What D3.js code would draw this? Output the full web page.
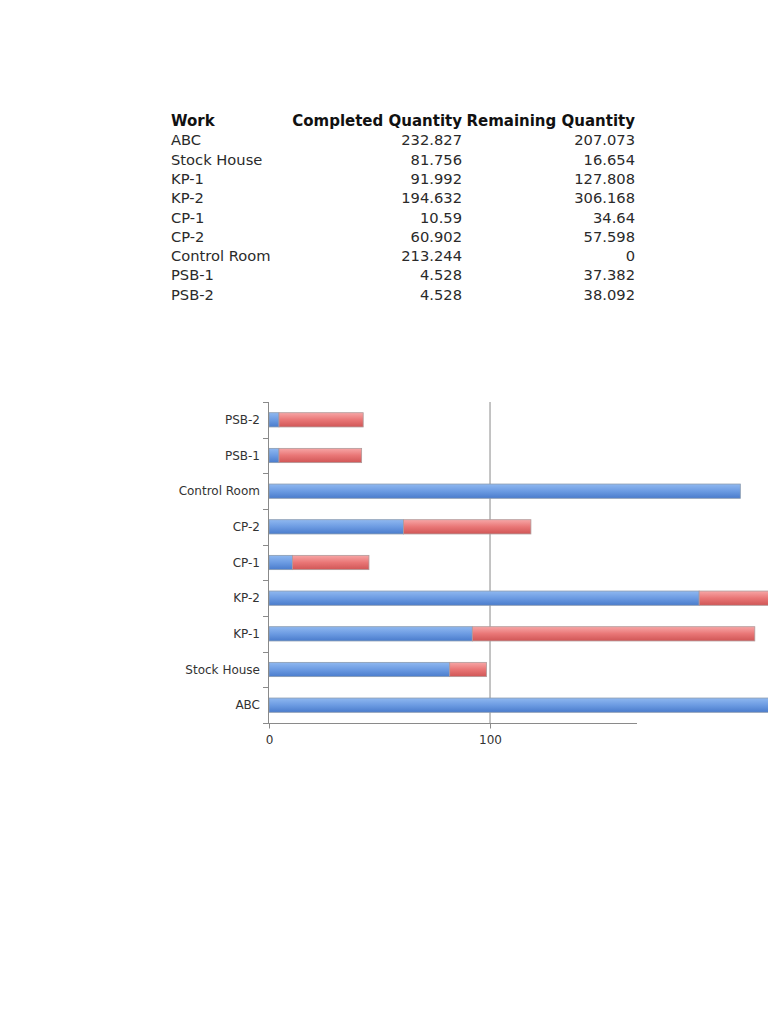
<!DOCTYPE html>
<html>
<head>
<meta charset="utf-8">
<script src="https://cdn.jsdelivr.net/npm/d3@7"></script>
<style>
  body { margin: 0; background: #fff; }
  svg { display: block; font-family: "DejaVu Sans", sans-serif; }
</style>
</head>
<body>
<div id="chart"></div>
<script>
var works = ["ABC", "Stock House", "KP-1", "KP-2", "CP-1", "CP-2", "Control Room", "PSB-1", "PSB-2"];
var completed = [232.827, 81.756, 91.992, 194.632, 10.59, 60.902, 213.244, 4.528, 4.528];
var remaining = [207.073, 16.654, 127.808, 306.168, 34.64, 57.598, 0, 37.382, 38.092];
var headers = ["Work", "Completed Quantity", "Remaining Quantity"];
var xTicks = [0, 100];

var width = 768, height = 1024;
var svg = d3.select("#chart").append("svg")
  .attr("width", width)
  .attr("height", height);

// gradients for the bars
var defs = svg.append("defs");
function grad(id, top, mid, bottom) {
  var g = defs.append("linearGradient").attr("id", id)
    .attr("x1", 0).attr("y1", 0).attr("x2", 0).attr("y2", 1);
  g.append("stop").attr("offset", "0%").attr("stop-color", top);
  g.append("stop").attr("offset", "50%").attr("stop-color", mid);
  g.append("stop").attr("offset", "100%").attr("stop-color", bottom);
}
grad("gBlue", "#8fb8f0", "#6c9be2", "#4a7ccc");
grad("gRed", "#f7a6a6", "#e97676", "#d05656");

// ---- table ----
var table = svg.append("g").attr("font-size", 14.7).attr("fill", "#2a2a2a");
var rowY = d3.scaleLinear().domain([0, 1]).range([126, 145.3]);
var colX = [171, 462, 635];

table.selectAll(".hdr").data(headers).enter().append("text")
  .attr("x", (d, i) => colX[i])
  .attr("y", rowY(0))
  .attr("text-anchor", (d, i) => i === 0 ? "start" : "end")
  .attr("font-weight", "bold")
  .attr("font-size", 15)
  .attr("fill", "#111")
  .text(d => d);

var rows = table.selectAll(".row").data(works).enter().append("g")
  .attr("transform", (d, i) => "translate(0," + rowY(i + 1) + ")");
rows.append("text").attr("x", colX[0]).text(d => d);
rows.append("text").attr("x", colX[1]).attr("text-anchor", "end")
  .text((d, i) => completed[i]);
rows.append("text").attr("x", colX[2]).attr("text-anchor", "end")
  .text((d, i) => remaining[i]);

// ---- chart ----
var x = d3.scaleLinear().domain([0, 166.5]).range([269, 637]);
var y = d3.scaleBand().domain(works.slice().reverse()).range([402, 723])
  .paddingInner(0.6).paddingOuter(0.3);

var axisColor = "#8a8a8a";

// gridline at 100
svg.append("line")
  .attr("x1", x(100)).attr("x2", x(100))
  .attr("y1", 402).attr("y2", 723)
  .attr("stroke", axisColor).attr("stroke-width", 1);

var bars = svg.append("g");
works.forEach(function (w, i) {
  bars.append("rect")
    .attr("x", x(0)).attr("y", y(w))
    .attr("width", x(completed[i]) - x(0))
    .attr("height", y.bandwidth())
    .attr("fill", "url(#gBlue)")
    .attr("stroke", "#8a9bb0").attr("stroke-width", 0.8);
  if (remaining[i] > 0) {
    bars.append("rect")
      .attr("x", x(completed[i])).attr("y", y(w))
      .attr("width", x(completed[i] + remaining[i]) - x(completed[i]))
      .attr("height", y.bandwidth())
      .attr("fill", "url(#gRed)")
      .attr("stroke", "#b09a9a").attr("stroke-width", 0.8);
  }
});

// y axis
var yAxis = svg.append("g");
yAxis.append("line")
  .attr("x1", 268.5).attr("x2", 268.5).attr("y1", 402).attr("y2", 723)
  .attr("stroke", axisColor);
var bounds = d3.range(works.length + 1).map(k => 402 + k * (321 / works.length));
yAxis.selectAll(".tk").data(bounds).enter().append("line")
  .attr("x1", 263).attr("x2", 268.5)
  .attr("y1", d => Math.round(d) + 0.5).attr("y2", d => Math.round(d) + 0.5)
  .attr("stroke", axisColor);
yAxis.selectAll(".lbl").data(works).enter().append("text")
  .attr("x", 260)
  .attr("y", d => y(d) + y.bandwidth() / 2)
  .attr("dy", "0.35em")
  .attr("text-anchor", "end")
  .attr("font-size", 12)
  .attr("fill", "#333")
  .text(d => d);

// x axis
var xAxis = svg.append("g").attr("transform", "translate(0,723.5)")
  .call(d3.axisBottom(x).tickValues(xTicks).tickSize(5).tickSizeOuter(0).tickPadding(7));
xAxis.select(".domain").attr("stroke", axisColor).attr("d", "M263,0H637");
xAxis.selectAll(".tick line").attr("stroke", axisColor);
xAxis.selectAll(".tick text").attr("font-size", 12).attr("fill", "#333")
  .attr("font-family", "DejaVu Sans, sans-serif");
</script>
</body>
</html>
